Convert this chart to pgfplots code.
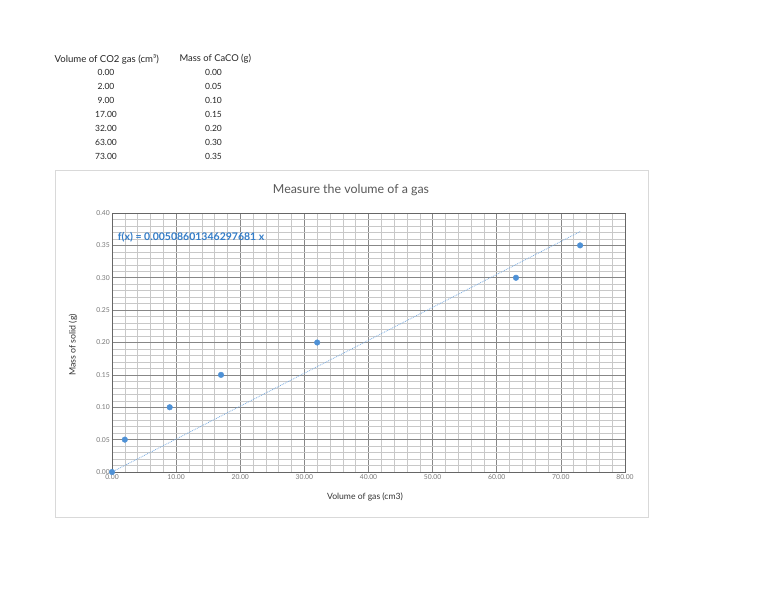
\documentclass[border=0pt]{standalone}
\usepackage{fontspec}
\setmainfont{Lato}
\usepackage{pgfplots}
\pgfplotsset{compat=1.18}
\definecolor{pt}{RGB}{78,145,214}
\definecolor{eq}{RGB}{52,125,200}
\definecolor{majg}{RGB}{135,135,135}
\definecolor{ming}{RGB}{200,200,200}
\definecolor{tickc}{RGB}{120,120,120}
\begin{document}
\begin{tikzpicture}[x=1pt,y=-1pt]
\path[use as bounding box] (0,0) rectangle (768,594);
\fill[white] (0,0) rectangle (768,594);
% table
\begin{scope}[text=black!85]
\node[anchor=west, font=\fontsize{9.6}{11}\selectfont] at (51,59) {Volume of CO2 gas (cm³)};
\node[anchor=west, font=\fontsize{9.4}{11}\selectfont] at (176,59) {Mass of CaCO (g)};
\foreach \v/\m/\yy in {0.00/0.00/72, 2.00/0.05/86, 9.00/0.10/100, 17.00/0.15/114, 32.00/0.20/128, 63.00/0.30/142, 73.00/0.35/156}{
  \node[font=\fontsize{8.5}{10}\selectfont] at (106,\yy) {\v};
  \node[font=\fontsize{8.5}{10}\selectfont] at (213.5,\yy) {\m};
}
\end{scope}
% frame
\draw[draw=black!15, line width=0.6pt] (55,170) rectangle (648,517);
\node[font=\fontsize{12.4}{14}\selectfont, text=black!65] at (351,190) {Measure the volume of a gas};
\node[font=\fontsize{8.8}{10}\selectfont, text=black!80, rotate=90] at (73,345) {Mass of solid (g)};
\node[font=\fontsize{8.6}{10}\selectfont, text=black!80] at (365,497) {Volume of gas (cm3)};
\begin{axis}[
  at={(112pt,-472pt)}, anchor=south west,
  width=513pt, height=259pt, scale only axis,
  xmin=0, xmax=80, ymin=0, ymax=0.4,
  xtick={0,10,...,80}, ytick={0,0.05,...,0.41},
  minor x tick num=4, minor y tick num=4,
  grid=both,
  major grid style={draw=majg, line width=0.6pt},
  minor grid style={draw=ming, line width=0.5pt},
  axis line style={draw=black!60, line width=0.7pt},
  tick style={draw=none},
  major tick length=0pt, minor tick length=0pt,
  ticklabel style={font=\fontsize{6.8}{8}\selectfont, text=tickc},
  xticklabel style={inner sep=2pt},
  yticklabel style={inner sep=2pt},
  /pgf/number format/.cd, fixed, fixed zerofill, precision=2, assume math mode=true,
  /pgfplots/.cd,
  clip=false,
]
\addplot[color=pt!75, densely dotted, line width=0.8pt] coordinates {(0,0) (73,0.37128)};
\addplot[only marks, mark=*, mark size=2.8pt, color=pt] coordinates {
(0,0) (2,0.05) (9,0.10) (17,0.15) (32,0.20) (63,0.30) (73,0.35)};
\node[anchor=west, text=eq, font=\fontsize{10.5}{12}\selectfont\bfseries, inner sep=0pt] at (axis cs:0.9,0.3625) {f(x) = 0.00508601346297681 x};
\end{axis}
\end{tikzpicture}
\end{document}
